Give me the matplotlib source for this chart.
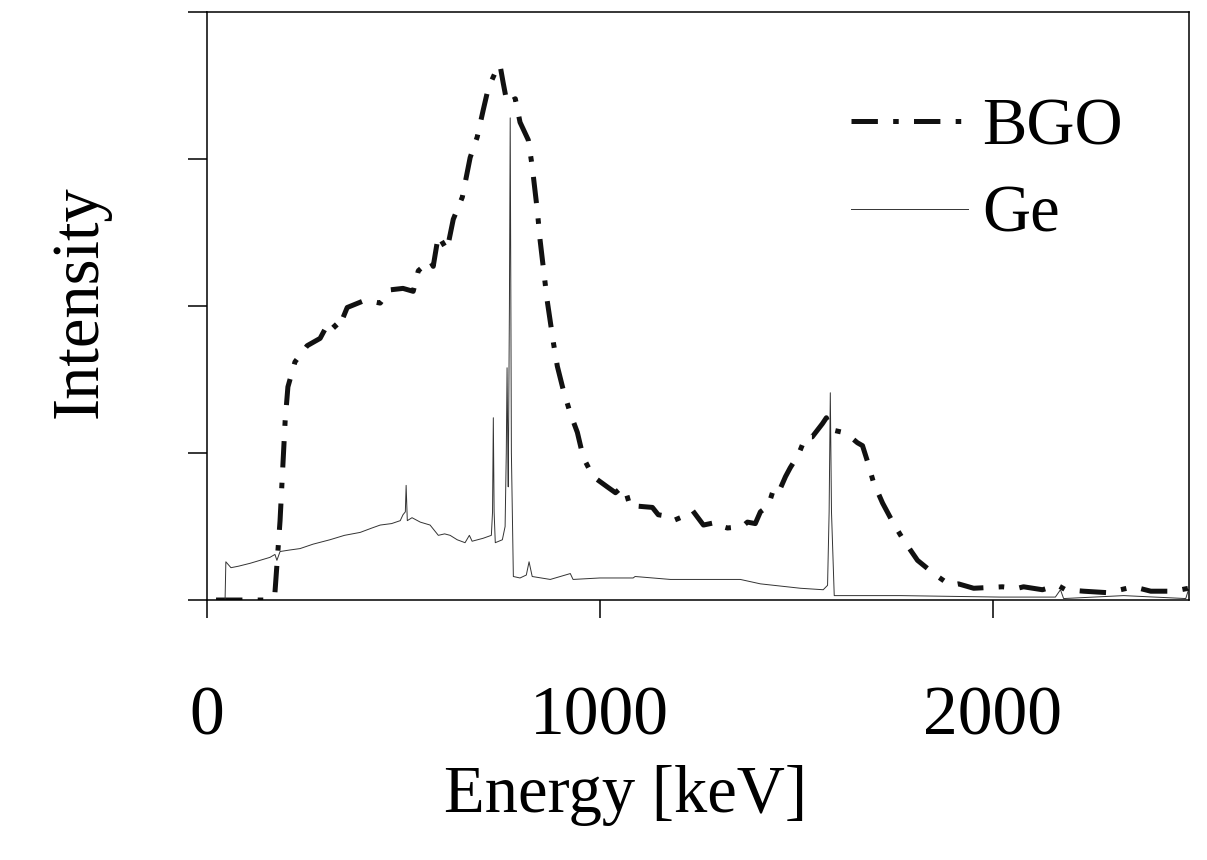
import numpy as np
import matplotlib
matplotlib.use('Agg')
import matplotlib.pyplot as plt

# BGO spectrum (energy in keV, intensity in arbitrary units)
bgo_energy = [23, 155, 173, 186, 199, 206, 224, 255, 288, 306, 313, 334, 357, 403,
              441, 466, 499, 525, 538, 568, 576, 589, 611, 627, 650, 670, 688, 703,
              716, 739, 746, 754, 764, 785, 797, 818, 828, 841, 848, 866, 882, 892,
              907, 925, 943, 958, 983, 1019, 1040, 1057, 1065, 1078, 1090, 1134,
              1149, 1172, 1187, 1223, 1236, 1264, 1299, 1312, 1325, 1363, 1376,
              1396, 1409, 1429, 1442, 1455, 1473, 1485, 1506, 1524, 1541, 1567,
              1577, 1587, 1620, 1638, 1656, 1669, 1682, 1697, 1720, 1748, 1773,
              1809, 1855, 1893, 1913, 1952, 2025, 2064, 2079, 2127, 2166, 2186,
              2232, 2293, 2359, 2403, 2461, 2499]
bgo_intensity = [0.0, 0.0, 0.05, 0.54, 1.22, 1.45, 1.62, 1.73, 1.78, 1.87, 1.90, 1.84,
                 1.99, 2.04, 2.02, 2.11, 2.12, 2.10, 2.24, 2.31, 2.27, 2.48, 2.38,
                 2.59, 2.74, 3.01, 3.15, 3.33, 3.48, 3.62, 3.64, 3.52, 3.38, 3.41,
                 3.25, 3.13, 2.95, 2.65, 2.45, 2.04, 1.75, 1.59, 1.43, 1.27, 1.14,
                 0.97, 0.84, 0.77, 0.73, 0.77, 0.75, 0.63, 0.64, 0.63, 0.58, 0.57,
                 0.54, 0.58, 0.61, 0.51, 0.53, 0.50, 0.49, 0.50, 0.53, 0.52, 0.60,
                 0.64, 0.75, 0.73, 0.84, 0.90, 0.99, 1.11, 1.11, 1.20, 1.24, 1.16,
                 1.14, 1.11, 1.07, 1.05, 0.94, 0.80, 0.66, 0.52, 0.41, 0.27, 0.17,
                 0.10, 0.11, 0.08, 0.09, 0.08, 0.09, 0.07, 0.10, 0.07, 0.06, 0.05,
                 0.09, 0.06, 0.06, 0.08]

# Ge spectrum
ge_energy = [46, 48, 61, 80, 110, 135, 160, 173, 178, 186, 210, 237, 270, 313, 350,
             390, 420, 441, 470, 492, 499, 505, 507, 510, 522, 543, 568, 589, 605,
             619, 637, 657, 668, 675, 703, 724, 727, 729, 731, 734, 752, 759, 762,
             764, 766, 767, 770, 772, 775, 780, 797, 813, 820, 828, 874, 925, 932,
             1000, 1085, 1090, 1180, 1256, 1358, 1409, 1511, 1569, 1580, 1584, 1587,
             1590, 1597, 1766, 2020, 2160, 2173, 2181, 2334, 2492, 2499]
ge_intensity = [0.0, 0.26, 0.22, 0.23, 0.25, 0.27, 0.29, 0.31, 0.27, 0.33, 0.34, 0.35,
                0.38, 0.41, 0.44, 0.46, 0.49, 0.51, 0.52, 0.54, 0.58, 0.60, 0.78,
                0.54, 0.56, 0.53, 0.51, 0.44, 0.45, 0.44, 0.41, 0.39, 0.44, 0.40,
                0.42, 0.44, 0.60, 1.24, 0.60, 0.39, 0.41, 0.50, 1.00, 1.58, 1.00,
                0.77, 2.00, 3.28, 1.00, 0.16, 0.15, 0.17, 0.26, 0.16, 0.14, 0.18,
                0.14, 0.15, 0.15, 0.16, 0.14, 0.14, 0.14, 0.11, 0.08, 0.07, 0.10,
                0.60, 1.41, 0.60, 0.03, 0.03, 0.02, 0.02, 0.07, 0.01, 0.03, 0.01,
                0.07]

x_ticks = [0, 1000, 2000]
y_ticks = [0, 1, 2, 3, 4]

plt.rcParams['font.family'] = ['Liberation Serif', 'DejaVu Serif']
plt.rcParams['lines.scale_dashes'] = False

fig = plt.figure(figsize=(12.07, 8.6), dpi=100)
ax = fig.add_axes([0.1715, 0.3023, 0.8135, 0.6837])

ax.plot(bgo_energy, bgo_intensity, color='#111111', lw=3.6,
        dashes=(19, 11, 4, 11), label='BGO')
ax.plot(ge_energy, ge_intensity, color='#333333', lw=0.7, label='Ge')

ax.set_xlim(0, 2500)
ax.set_ylim(0, 4)
ax.set_xticks(x_ticks)
ax.set_yticks(y_ticks)
ax.set_yticklabels([])
ax.tick_params(axis='x', direction='out', length=13, width=1.1, pad=49,
               labelsize=50)
ax.tick_params(axis='y', direction='out', length=14, width=1.1)
for sp in ax.spines.values():
    sp.set_linewidth(1.1)

ax.set_xlabel('Energy [keV]', fontsize=48)
ax.xaxis.set_label_coords(0.426, -0.281)
ax.set_ylabel('Intensity', fontsize=48)
ax.yaxis.set_label_coords(-0.098, 0.507)

ax.legend(loc='upper left', bbox_to_anchor=(0.656, 0.855), frameon=False,
          fontsize=48, handlelength=1.75, handletextpad=0.22, borderpad=0,
          borderaxespad=0, labelspacing=0.4)

fig.savefig('out.png', dpi=100)
